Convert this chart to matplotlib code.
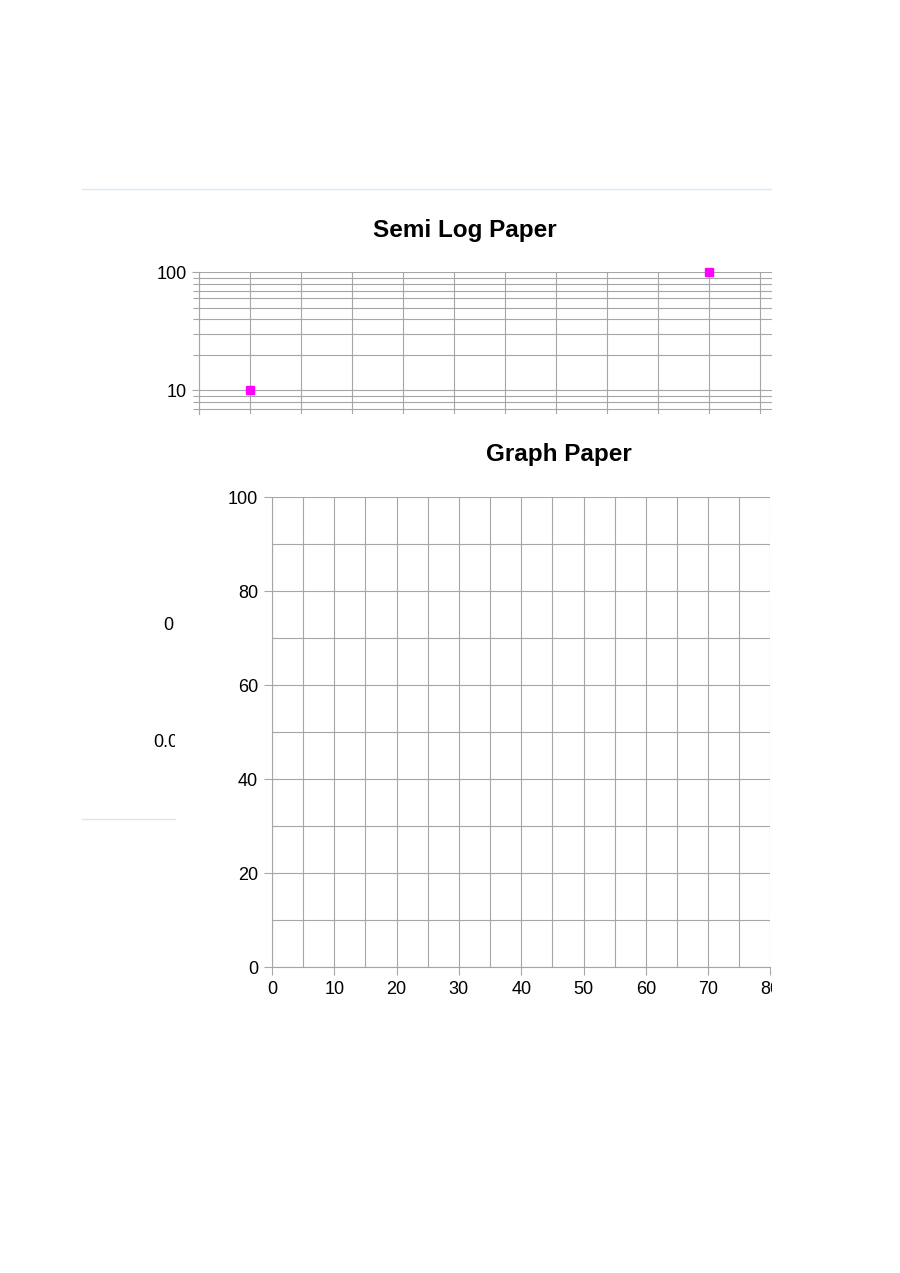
import matplotlib.pyplot as plt
from matplotlib.lines import Line2D
from matplotlib.patches import Rectangle
from matplotlib.ticker import MultipleLocator, LogLocator, NullFormatter
import numpy as np

plt.rcParams['font.family'] = ['Liberation Sans', 'DejaVu Sans']

# data
semi_x = [1, 10]
semi_y = [10, 100]
semi_yticks = [10, 100]
graph_xticks = [0, 10, 20, 30, 40, 50, 60, 70, 80]
graph_yticks = [0, 20, 40, 60, 80, 100]

W, H = 900, 1273
GRID = '#a6a6a6'
fig = plt.figure(figsize=(W / 100, H / 100), dpi=100)


def box(x0, y0, x1, y1):
    # pixel box (top-left origin) -> figure fraction rect
    return [x0 / W, 1 - y1 / H, (x1 - x0) / W, (y1 - y0) / H]


# thin blue rule at the top
fig.add_artist(Line2D([82 / W, 772 / W], [1 - 189 / H] * 2, color='#dbe6f2', lw=1))

# --- Semi Log Paper ---
ax1 = fig.add_axes(box(199, 272.3, 772, 414.3))
ax1.set_yscale('log')
ax1.set_ylim(6.26, 100)
ax1.set_xlim(0, 573 / 51)
ax1.xaxis.set_major_locator(MultipleLocator(1))
ax1.yaxis.set_minor_locator(LogLocator(base=10, subs=np.arange(2, 10), numticks=10))
ax1.yaxis.set_minor_formatter(NullFormatter())
ax1.set_yticks(semi_yticks)
ax1.set_yticklabels([str(v) for v in semi_yticks])
ax1.grid(True, which='both', color=GRID, lw=0.8)
ax1.set_axisbelow(True)
for s in ['top', 'right', 'bottom']:
    ax1.spines[s].set_visible(False)
ax1.spines['left'].set_color(GRID)
ax1.spines['left'].set_linewidth(0.8)
ax1.tick_params(axis='x', length=0, labelbottom=False)
ax1.tick_params(axis='y', which='major', length=5, width=0.8, color=GRID, labelsize=13, pad=4)
ax1.tick_params(axis='y', which='minor', length=4, width=0.8, color=GRID)
ax1.plot(semi_x, semi_y, 's', color='#ff00ff', ms=6, ls='none', clip_on=False, zorder=5)
fig.text(465 / W, 1 - 230 / H, 'Semi Log Paper', ha='center', va='center',
         fontsize=17.5, fontweight='bold')

# --- Graph Paper ---
ax2 = fig.add_axes(box(272, 497, 770.4, 967))
ax2.set_xlim(0, 80)
ax2.set_ylim(0, 100)
ax2.set_xticks(graph_xticks)
ax2.set_yticks(graph_yticks)
ax2.xaxis.set_minor_locator(MultipleLocator(5))
ax2.yaxis.set_minor_locator(MultipleLocator(10))
ax2.grid(True, which='both', color=GRID, lw=0.8)
ax2.set_axisbelow(True)
for s in ['top', 'right']:
    ax2.spines[s].set_visible(False)
for s in ['left', 'bottom']:
    ax2.spines[s].set_color(GRID)
    ax2.spines[s].set_linewidth(0.8)
ax2.tick_params(which='major', length=6, width=0.8, color=GRID, labelsize=13, pad=4)
ax2.tick_params(which='minor', length=0)
fig.text(559 / W, 1 - 454 / H, 'Graph Paper', ha='center', va='center',
         fontsize=17.5, fontweight='bold')

# clip everything right of the page edge
fig.add_artist(Rectangle((772 / W, 0), (W - 772) / W, 1, transform=fig.transFigure,
                         facecolor='white', edgecolor='none', zorder=10))

# leftovers of a chart hidden behind
ax3 = fig.add_axes(box(82, 600, 175, 830))
ax3.set_xlim(82, 175)
ax3.set_ylim(830, 600)
ax3.axis('off')
ax3.text(173, 626, '0', ha='right', va='center', fontsize=13, clip_on=True)
ax3.text(153, 743, '0.00', ha='left', va='center', fontsize=13, clip_on=True)
fig.add_artist(Line2D([82 / W, 175 / W], [1 - 819 / H] * 2, color='#dbe6f2', lw=1))

fig.savefig('out.png', dpi=100, facecolor='white')
